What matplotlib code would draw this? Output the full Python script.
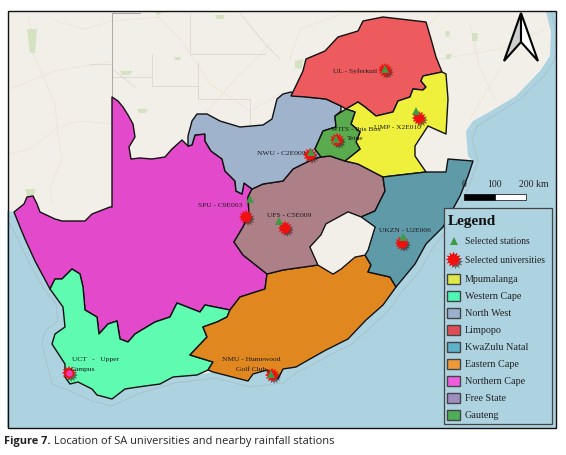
import matplotlib
matplotlib.use("Agg")
import matplotlib.pyplot as plt
import matplotlib.patheffects as pe
from matplotlib.patches import Polygon, Rectangle
from matplotlib.path import Path

W, H = 566, 456
SEA = '#aed3e0'; LAND = '#f2efe9'

northern_cape = [(112,98),(118,102),(123,108),(128,116),(133,125),(135,138),(129,148),(131,160),(140,159),(152,160),(165,158),(172,150),(182,141),(188,147),(192,146),(195,136),(205,135),(205,142),(211,152),(222,160),(225,172),(235,182),(236,192),(242,195),(244,184),(252,190),(248,198),(249,215),(243,228),(234,243),(243,256),(267,275),(265,290),(240,298),(230,311),(205,306),(200,313),(177,304),(170,318),(155,323),(135,335),(128,343),(120,340),(117,322),(108,325),(99,335),(97,318),(85,311),(83,288),(80,275),(72,270),(62,280),(55,280),(50,290),(35,262),(25,240),(20,228),(14,213),(24,205),(27,198),(33,197),(37,205),(40,213),(55,220),(62,222),(85,222),(92,215),(110,208),(112,208)]
western_cape = [(50,290),(55,280),(62,280),(72,270),(80,275),(83,288),(85,311),(97,318),(99,335),(108,325),(117,322),(120,340),(128,343),(135,335),(155,323),(170,318),(177,304),(200,313),(205,306),(230,311),(227,318),(217,323),(203,328),(207,338),(190,356),(213,363),(208,371),(197,376),(173,378),(160,385),(138,388),(125,390),(112,400),(97,396),(92,390),(78,383),(70,385),(65,378),(65,365),(52,345),(55,335),(65,328),(63,308)]
eastern_cape = [(230,311),(240,298),(265,290),(267,275),(283,271),(318,266),(333,275),(341,270),(355,258),(365,256),(371,266),(368,273),(390,278),(396,288),(383,306),(366,321),(348,340),(326,351),(310,360),(296,368),(283,370),(278,380),(272,376),(267,371),(253,375),(248,382),(213,373),(208,371),(213,363),(190,356),(207,338),(203,328),(217,323),(227,318)]
free_state = [(252,190),(263,185),(283,182),(293,170),(313,160),(321,158),(330,157),(345,162),(358,165),(383,178),(385,192),(375,212),(361,218),(348,213),(326,225),(321,236),(310,248),(318,266),(283,271),(267,275),(243,256),(234,243),(243,228),(249,215),(248,198)]
lesotho = [(310,248),(321,236),(326,225),(348,213),(361,218),(375,228),(368,251),(365,256),(355,258),(341,270),(333,275),(318,266)]
north_west = [(188,147),(188,137),(192,122),(197,115),(207,115),(220,122),(240,128),(263,126),(272,120),(277,100),(283,95),(291,93),(306,98),(326,100),(341,107),(341,112),(335,117),(336,128),(323,132),(315,150),(321,158),(313,160),(293,170),(283,182),(263,185),(252,190),(244,184),(242,195),(236,192),(235,182),(225,172),(222,160),(211,152),(205,142),(205,135),(195,136),(192,146)]
limpopo = [(291,97),(303,72),(306,60),(325,52),(338,38),(358,32),(363,22),(383,18),(426,23),(431,40),(436,58),(442,73),(423,77),(421,82),(426,88),(423,91),(413,90),(410,98),(398,102),(393,113),(376,117),(365,108),(358,103),(346,110),(341,107),(326,100),(306,98)]
mpumalanga = [(442,73),(446,75),(448,100),(446,135),(428,127),(415,147),(415,157),(426,173),(383,178),(358,165),(345,162),(360,150),(356,143),(360,133),(351,125),(355,113),(346,110),(358,103),(365,108),(376,117),(393,113),(398,102),(410,98),(413,90),(423,91),(426,88),(421,82),(423,77)]
gauteng = [(315,150),(323,132),(336,128),(335,117),(346,110),(355,113),(351,125),(360,133),(356,143),(360,150),(345,162),(330,157),(321,158)]
kzn = [(383,178),(426,173),(446,173),(448,160),(473,162),(468,177),(460,197),(443,228),(426,245),(415,265),(396,288),(390,278),(368,273),(371,266),(365,256),(368,251),(375,228),(361,218),(375,212),(385,192)]
sea = [(546,12),(551,33),(550,57),(540,72),(516,97),(491,112),(473,122),(466,132),(468,157),(473,162),(460,197),(443,228),(426,245),(415,265),(396,288),(383,306),(366,321),(348,340),(326,351),(310,360),(296,368),(283,370),(278,380),(272,376),(267,371),(253,375),(248,382),(213,373),(197,376),(173,378),(160,385),(138,388),(125,390),(112,400),(97,396),(92,390),(78,383),(70,385),(65,378),(65,365),(52,345),(55,335),(65,328),(63,308),(50,290),(35,262),(25,240),(20,228),(14,213),(7,212),(7,429),(556,429),(556,12)]
offshore = [(551,12),(556,30),(555,60),(545,76),(520,100),(495,116),(477,127),(472,140),(478,162),(470,185),(452,225),(432,250),(420,272),(400,295),(388,312),(372,327),(352,345),(330,356),(312,366),(296,374),(283,384),(250,388),(215,379),(175,384),(140,394),(112,407),(92,402),(70,392),(52,385),(42,345),(45,332),(58,322),(56,305),(44,290),(28,262),(18,240),(8,222)]

regions = [
    (northern_cape, '#e34acb'), (western_cape, '#5ffbb0'), (eastern_cape, '#e0881f'),
    (free_state, '#ad8087'), (north_west, '#9fb3cc'), (limpopo, '#ee5b5e'),
    (mpumalanga, '#eef03c'), (gauteng, '#5aaa4e'), (kzn, '#5f9aa9'),
]
namibia_border = [(140,14),(112,14),(112,98)]
namibia_border2 = [(112,98),(112,208)]
grey_lines = [
    [(152,55),(152,87),(198,87),(198,100)], [(190,14),(190,55),(265,55)], [(198,62),(198,100),(250,100),(250,125)],
    [(112,78),(152,78)], [(90,65),(112,65)], [(240,14),(265,45),(280,60)], [(112,70),(135,88)],
]
road_lines = [
    [(28,18),(32,32),(33,55),(42,75),(55,105),(58,135),(62,160),(50,190),(52,205)],
    [(10,90),(40,78),(55,72),(80,68),(112,62)], [(8,155),(30,150),(58,128),(80,122),(112,125)],
    [(155,15),(180,40),(210,85),(250,112),(280,95)], [(55,22),(85,30),(112,22),(160,18)],
    [(440,15),(425,30)], [(470,25),(480,70),(495,100)], [(440,60),(500,50),(545,30)],
    [(290,60),(300,30),(345,14)], [(345,14),(380,13)], [(500,70),(470,120)],
    [(200,120),(240,75),(270,45)],
]
green_patches = [
    [(27,30),(37,30),(35,54),(30,54)], [(120,72),(133,72),(130,76),(122,76)], [(215,16),(225,16),(223,20),(217,20)],
    [(174,58),(181,58),(180,61),(175,61)], [(137,110),(147,110),(146,114),(139,114)], [(295,62),(303,60),(302,70),(295,69)],
    [(446,55),(452,55),(450,60),(446,60)], [(472,34),(478,34),(477,42),(472,42)], [(445,32),(450,32),(449,38),(446,38)],
    [(155,12),(162,12),(160,16),(157,16)], [(25,190),(35,190),(34,197),(27,197)],
]

uni_x = [385, 419, 337, 310, 246, 285, 402, 69, 272]
uni_y = [71, 119, 141, 156, 218, 229, 244, 374, 376]
stn_x = [385, 416, 336, 311, 250, 279, 403, 271]
stn_y = [70, 112, 140, 153, 200, 222, 238, 375]
cpt_x, cpt_y = [69], [374]

map_labels = [
    ("UL - Syferkuil", 355.5, 71), ("WITS - Ibis Box", 356, 130), ("Teine", 355, 139),
    ("UMP - X2E010", 397, 128), ("NWU - C2E009", 281, 154), ("SPU - C9E003", 220, 206),
    ("UFS - C5E009", 289, 216), ("UKZN - U2E006", 405, 231),
    ("UCT   -   Upper", 95.5, 360), ("Campus", 83, 370),
    ("NMU - Humewood", 251, 360), ("Golf Club", 251, 370),
]
legend_regions = [
    ("Mpumalanga", '#dfe84a'), ("Western Cape", '#4df7b4'), ("North West", '#9bb1cd'),
    ("Limpopo", '#df4e58'), ("KwaZulu Natal", '#5eb0cb'), ("Eastern Cape", '#ee9a3c'),
    ("Northern Cape", '#ee5fe0'), ("Free State", '#a08ec0'), ("Gauteng", '#50ad5a'),
]
legend_y = [280, 297, 314, 331, 348, 365, 382, 399, 416]
arrow_left = [(521,14),(504,62),(521,43)]
arrow_right = [(521,14),(538,62),(521,43)]

fig = plt.figure(figsize=(W/100, H/100), dpi=100, facecolor='white')
ax = fig.add_axes([0, 0, 1, 1])
ax.set_xlim(0, W); ax.set_ylim(H, 0); ax.axis('off')
serif = 'Liberation Serif'
star = Path.unit_regular_star(12, innerCircle=0.62)

ax.add_patch(Rectangle((7.5, 11.5), 548.5, 417.5, fc=LAND, ec='none', zorder=0))
ax.add_patch(Polygon(sea, fc=SEA, ec='none', zorder=1))
ax.plot(*zip(*offshore), color='#a6bfc8', lw=0.6, zorder=1.2)
for ln in road_lines:
    ax.plot(*zip(*ln), color='#eee5d8', lw=0.7, zorder=0.5)
for ln in grey_lines:
    ax.plot(*zip(*ln), color='#dcd8d0', lw=0.6, zorder=0.6)
for p in green_patches:
    ax.add_patch(Polygon(p, fc='#d3e2c0', ec='none', zorder=0.7))
ax.plot(*zip(*namibia_border), color='#a8a8a2', lw=0.7, zorder=0.8)
ax.plot(*zip(*namibia_border2), color='#a8a8a2', lw=0.7, zorder=0.8)
for pts, c in regions:
    ax.add_patch(Polygon(pts, fc=c, ec='#111111', lw=1.0, zorder=2, joinstyle='round'))
ax.add_patch(Polygon(lesotho, fc=LAND, ec='#111111', lw=0.8, zorder=2.2))

shadow = [pe.withSimplePatchShadow(offset=(1.5, -1.5), shadow_rgbFace='#222222', alpha=0.6), pe.Normal()]
ax.plot(uni_x, uni_y, ls='none', marker=star, ms=10, color='#f01010', mew=0, zorder=3, path_effects=shadow)
ax.plot(cpt_x, cpt_y, ls='none', marker='o', ms=4.5, color='#e83ec0', mew=0, zorder=3.1)
ax.plot(stn_x, stn_y, ls='none', marker='^', ms=5.5, color='#3f9a45', mew=0, zorder=3.2)
for t, x, y in map_labels:
    ax.text(x, y, t, family=serif, fontsize=5.4, color='#1a1a1a', ha='center', va='center', zorder=4)

# scale bar
ax.add_patch(Rectangle((464, 195), 31, 6, fc='black', ec='black', lw=0.5, zorder=4))
ax.add_patch(Rectangle((495, 195), 31, 6, fc='white', ec='black', lw=0.5, zorder=4))
for t, x in [("0", 464), ("100", 495), ("200 km", 534)]:
    ax.text(x, 185, t, family=serif, fontsize=7, color='#222222', ha='center', va='center', zorder=4)

# north arrow
ax.add_patch(Polygon(arrow_left, fc='#cfcfcf', ec='black', lw=1.5, zorder=4, joinstyle='miter'))
ax.add_patch(Polygon(arrow_right, fc='white', ec='black', lw=1.5, zorder=4, joinstyle='miter'))

# legend
ax.add_patch(Rectangle((444, 209), 107.5, 216.5, fc='#aed3e0', ec='#444444', lw=0.9, zorder=5))
ax.text(447.5, 222, "Legend", family=serif, fontsize=11, fontweight='bold', color='#111111', va='center', zorder=6)
ax.plot([453.5], [241.5], ls='none', marker='^', ms=6, color='#3f9a45', mew=0, zorder=6)
ax.plot([453.5], [260.5], ls='none', marker=star, ms=11, color='#f01010', mew=0, zorder=6, path_effects=shadow)
ax.text(465, 241.5, "Selected stations", family=serif, fontsize=6.9, color='#222222', va='center', zorder=6)
ax.text(465, 260.5, "Selected universities", family=serif, fontsize=6.9, color='#222222', va='center', zorder=6)
for (name, col), y in zip(legend_regions, legend_y):
    ax.add_patch(Rectangle((447, y-5), 13, 10, fc=col, ec='#444444', lw=1.0, zorder=6))
    ax.text(465, y, name, family=serif, fontsize=7.3, color='#222222', va='center', zorder=6)

ax.add_patch(Rectangle((7.5, 11.5), 548.5, 417.5, fc='none', ec='#111111', lw=1.0, zorder=7))

ax.text(4, 441.5, "Figure 7.", family='Open Sans', fontsize=7.9, fontweight='bold', color='#222222', va='center')
ax.text(54, 441.5, "Location of SA universities and nearby rainfall stations", family='Open Sans', fontsize=7.95, color='#222222', va='center')

fig.savefig('out.png', dpi=100)
